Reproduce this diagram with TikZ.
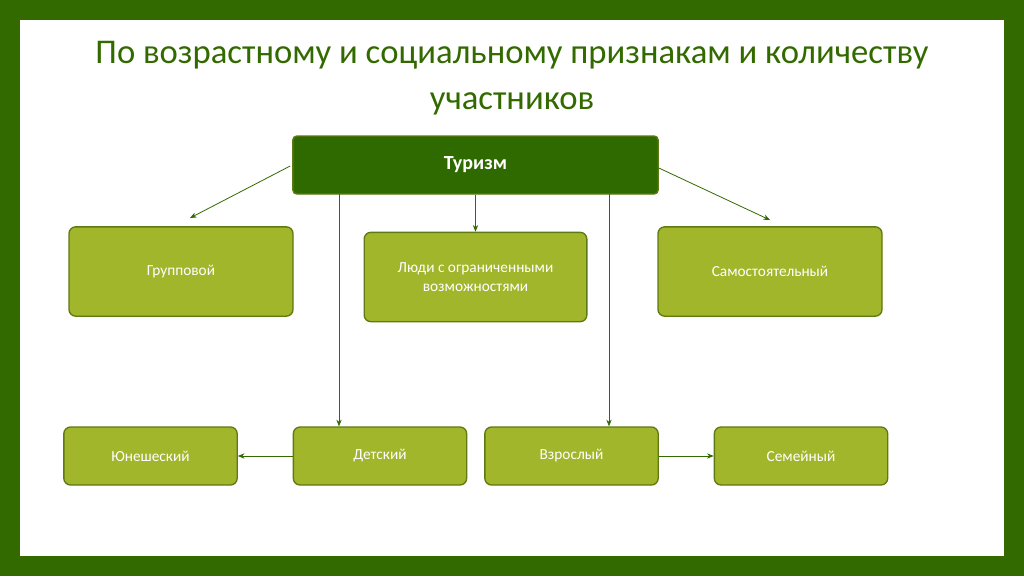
\documentclass[tikz,border=0pt]{standalone}
\usepackage{fontspec}
\setmainfont{Carlito}
\usetikzlibrary{arrows.meta}
\definecolor{frame}{HTML}{336A00}
\definecolor{olive}{HTML}{A2B62B}
\definecolor{oliveline}{HTML}{5E7A12}
\definecolor{topbox}{HTML}{2F6A00}
\tikzset{
 px/.style={x=0.75pt,y=-0.75pt},
 box/.style={draw=oliveline,line width=1pt,fill=olive,rounded corners=5pt,text=white,font=\fontsize{11.5}{14}\selectfont,align=center,inner sep=0pt},
 conn/.style={draw=frame,line width=0.6pt,-{Stealth[length=5pt,width=4pt]}}
}
\begin{document}
\begin{tikzpicture}[px]
\useasboundingbox (0,0) rectangle (1024,576);
\fill[frame] (0,0) rectangle (1024,576);
\fill[white] (20,20) rectangle (1004,556);
\node[text=frame,font=\fontsize{26}{34}\selectfont,align=center] (title) at (512,78) {По возрастному и социальному признакам и количеству\\участников};
\node[box,fill=topbox,draw=oliveline,rounded corners=3pt,minimum width=274pt,minimum height=43.5pt,font=\bfseries\fontsize{15}{18}\selectfont] (tur) at (475.5,165) {Туризм};
\node[box,minimum width=168pt,minimum height=67pt] (grp) at (181,271.5) {Групповой};
\node[box,minimum width=167pt,minimum height=67pt] (lud) at (475.5,277) {Люди с ограниченными\\возможностями};
\node[box,minimum width=168pt,minimum height=67pt] (sam) at (770,271.5) {Самостоятельный};
\node[box,minimum width=130pt,minimum height=43.5pt] (yun) at (150.5,456) {Юнешеский};
\node[box,minimum width=130pt,minimum height=43.5pt] (det) at (380,456) {Детский};
\node[box,minimum width=130pt,minimum height=43.5pt] (vzr) at (571.5,456) {Взрослый};
\node[box,minimum width=130pt,minimum height=43.5pt] (sem) at (801,456) {Семейный};
\draw[conn] (tur.west) ++(-2,1) -- (190,218);
\draw[conn] (tur.south) -- (lud.north);
\draw[conn] (tur.east) ++(0,3) -- (770,220);
\draw[conn] (339,194) -- (det.north -| 339,0);
\draw[conn] (609,194) -- (vzr.north -| 609,0);
\draw[conn] (det.west) -- (yun.east);
\draw[conn] (vzr.east) -- (sem.west);
\end{tikzpicture}
\end{document}
